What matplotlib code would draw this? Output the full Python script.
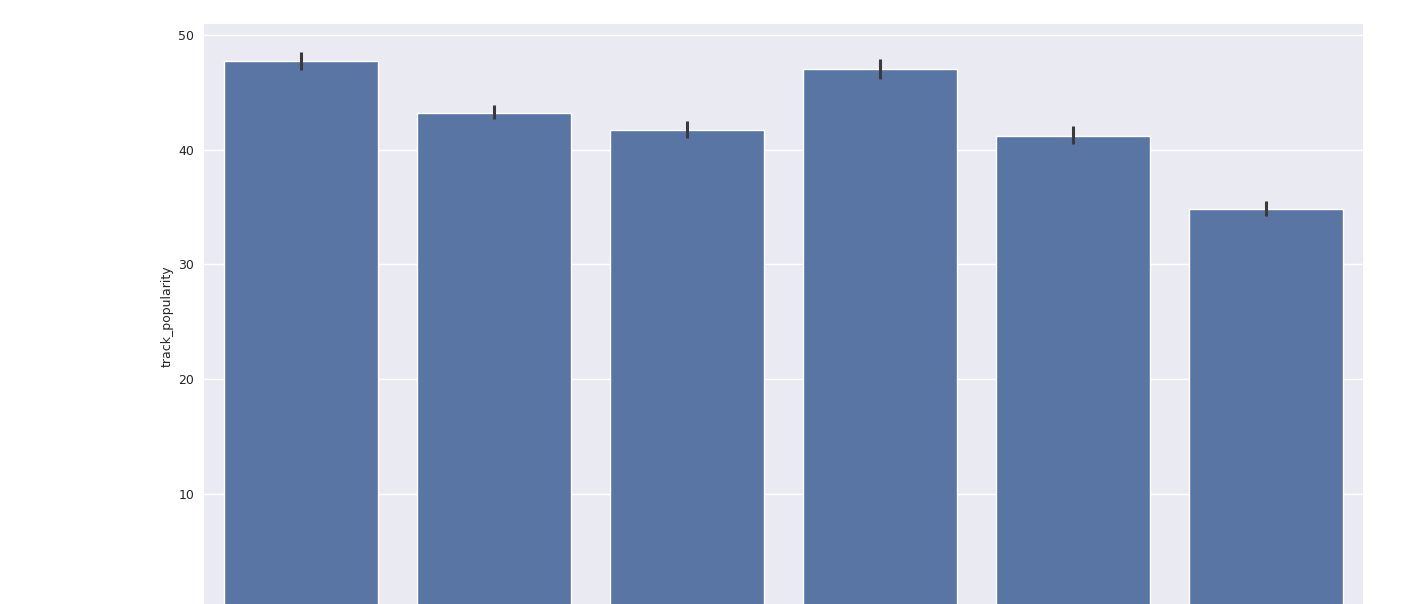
import matplotlib
matplotlib.use("Agg")
import matplotlib.pyplot as plt
import seaborn as sns
import numpy as np

categories = ["A", "B", "C", "D", "E", "F"]
popularity_mean = [47.73, 43.23, 41.72, 47.04, 41.20, 34.83]
ci_low = [46.95, 42.68, 40.99, 46.17, 40.50, 34.22]
ci_high = [48.52, 43.90, 42.50, 47.91, 42.07, 35.53]

sns.set_theme(style="darkgrid")
plt.rcParams['font.family'] = ['DejaVu Sans']

fig = plt.figure(figsize=(14.10, 6.04), dpi=100)
ax = fig.add_axes([204.5 / 1410, 1 - 608.75 / 604, (1362.5 - 204.5) / 1410, (608.75 - 24) / 604])

x = np.arange(len(categories))
ax.bar(x, popularity_mean, width=0.8, color="#5975a4", edgecolor="white", linewidth=1.0, zorder=2)
ax.vlines(x, ci_low, ci_high, color="#3a3a3a", linewidth=2.2, zorder=3)

ax.set_xlim(-0.5, len(categories) - 0.5)
ax.set_xticks(x)
ax.set_xticklabels(categories)
ax.tick_params(axis="x", labelsize=9)
ax.set_yticks([0, 10, 20, 30, 40, 50])
ax.tick_params(axis="y", labelsize=9, length=0, pad=7.5)
ax.set_ylabel("track_popularity", fontsize=9, labelpad=3)
ax.grid(axis="x", visible=False)
for s in ax.spines.values():
    s.set_visible(False)

fig.savefig("out.png", dpi=100)
